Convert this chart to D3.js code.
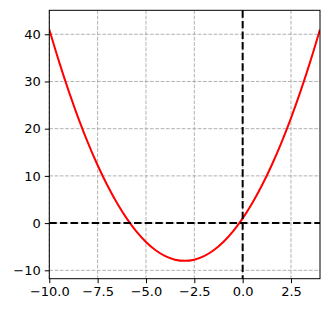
<!doctype html>
<html>
<head>
<meta charset="utf-8">
<script src="https://d3js.org/d3.v7.min.js"></script>
<style>
  body { margin: 0; background: #fff; }
  svg { display: block; }
</style>
</head>
<body>
<script>
// values
var xs = [-10, -9.5, -9, -8.5, -8, -7.5, -7, -6.5, -6, -5.5, -5, -4.5, -4, -3.5, -3,
          -2.5, -2, -1.5, -1, -0.5, 0, 0.5, 1, 1.5, 2, 2.5, 3, 3.5, 4];
var ys = [41, 34.25, 28, 22.25, 17, 12.25, 8, 4.25, 1, -1.75, -4, -5.75, -7, -7.75, -8,
          -7.75, -7, -5.75, -4, -1.75, 1, 4.25, 8, 12.25, 17, 22.25, 28, 34.25, 41];
var xTicks = [-10, -7.5, -5, -2.5, 0, 2.5];
var yTicks = [-10, 0, 10, 20, 30, 40];

var W = 330, H = 313;
var margin = {top: 10.3, right: 10, bottom: 34.3, left: 49.3};
var width = W - margin.left - margin.right,
    height = H - margin.top - margin.bottom;

var svg = d3.select("body").append("svg").attr("width", W).attr("height", H);
var g = svg.append("g").attr("transform", "translate(" + margin.left + "," + margin.top + ")");

var x = d3.scaleLinear().domain([-10, 4]).range([0, width]);
var y = d3.scaleLinear().domain([-11.78, 45.08]).range([height, 0]);

// grid
g.selectAll(".gx").data(xTicks).enter().append("line")
  .attr("x1", d => x(d)).attr("x2", d => x(d)).attr("y1", 0).attr("y2", height)
  .attr("stroke", "#a8a8a8").attr("stroke-width", 0.9).attr("stroke-dasharray", "3.7,1.6");
g.selectAll(".gy").data(yTicks).enter().append("line")
  .attr("y1", d => y(d)).attr("y2", d => y(d)).attr("x1", 0).attr("x2", width)
  .attr("stroke", "#a8a8a8").attr("stroke-width", 0.9).attr("stroke-dasharray", "3.7,1.6");

g.append("clipPath").attr("id", "clip").append("rect").attr("width", width).attr("height", height);

var pts = xs.map((v, i) => [v, ys[i]]);
var line = d3.line().x(d => x(d[0])).y(d => y(d[1])).curve(d3.curveCatmullRom);
g.append("path").datum(pts).attr("clip-path", "url(#clip)")
  .attr("fill", "none").attr("stroke", "red").attr("stroke-width", 2).attr("d", line);

// zero lines
g.append("line").attr("x1", 0).attr("x2", width).attr("y1", y(0)).attr("y2", y(0))
  .attr("stroke", "#000").attr("stroke-width", 2).attr("stroke-dasharray", "7.4,3.2");
g.append("line").attr("x1", x(0)).attr("x2", x(0)).attr("y1", 0).attr("y2", height)
  .attr("stroke", "#000").attr("stroke-width", 2).attr("stroke-dasharray", "7.4,3.2");

// axes
var minus = s => s.replace("-", "\u2212");
var xa = g.append("g").attr("transform", "translate(0," + height + ")")
  .call(d3.axisBottom(x).tickValues(xTicks).tickFormat(d => minus(d3.format(".1f")(d))).tickSize(4.5).tickPadding(4));
var ya = g.append("g")
  .call(d3.axisLeft(y).tickValues(yTicks).tickFormat(d => minus(String(d))).tickSize(4.5).tickPadding(4));
[xa, ya].forEach(function(a) {
  a.attr("font-family", "DejaVu Sans").attr("font-size", 13);
  a.select(".domain").remove();
  a.selectAll(".tick text").attr("fill", "#000");
  a.selectAll(".tick line").attr("stroke", "#000");
});

g.append("rect").attr("width", width).attr("height", height)
  .attr("fill", "none").attr("stroke", "#000").attr("stroke-width", 1);
</script>
</body>
</html>
